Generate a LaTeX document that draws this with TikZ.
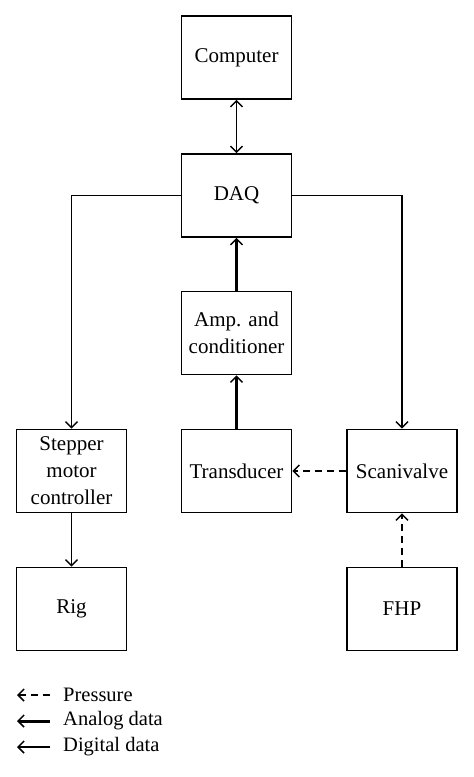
\documentclass[tikz,border=0pt]{standalone}
\usepackage{fontspec}
\setmainfont{Liberation Serif}
\usetikzlibrary{arrows.meta}
\begin{document}
\begin{tikzpicture}[x=1pt,y=-1pt,
  box/.style={draw,line width=1.7pt,minimum width=110pt,minimum height=83pt,inner sep=2pt,align=center,font=\fontsize{21}{27}\selectfont},
  lbl/.style={anchor=west,inner sep=0pt,font=\fontsize{20.5}{24}\selectfont},
  tip/.style={-{Straight Barb[length=6pt,width=12pt,line width=1.5pt]}},
  digital/.style={tip,line width=1.5pt},
  analog/.style={tip,line width=3pt},
  pressure/.style={tip,line width=1.5pt,dash pattern=on 7pt off 5pt}]
\useasboundingbox (0,0) rectangle (474,777);
\node[box] (comp) at (236.5,57.5) {Computer};
\node[box] (daq) at (236.5,195.5) {DAQ};
\node[box] (amp) at (236.5,333) {Amp. and\\conditioner};
\node[box] (step) at (71.5,471) {Stepper\\motor\\controller};
\node[box] (trans) at (236.5,471) {Transducer};
\node[box] (scan) at (402,471) {Scanivalve};
\node[box] (rig) at (71.5,609) {Rig};
\node[box] (fhp) at (402,609) {FHP};
\draw[line width=1.5pt,{Straight Barb[length=6pt,width=12pt,line width=1.5pt]}-{Straight Barb[length=6pt,width=12pt,line width=1.5pt]}] (comp) -- (daq);
\draw[analog] (amp) -- (daq);
\draw[analog] (trans) -- (amp);
\draw[digital] (daq.west) -| (step.north);
\draw[digital] (daq.east) -| (scan.north);
\draw[digital] (step) -- (rig);
\draw[pressure] (scan) -- (trans);
\draw[pressure] (fhp) -- (scan);
% legend
\coordinate (p1) at (50,695); \coordinate (p0) at (17,695);
\coordinate (a1) at (50,721); \coordinate (a0) at (17,721);
\coordinate (d1) at (50,747); \coordinate (d0) at (17,747);
\draw[pressure,dash pattern=on 7pt off 5pt] (p1) -- (p0);
\draw[analog] (a1) -- (a0);
\draw[digital] (d1) -- (d0);
\node[lbl] (lp) at (63,695) {Pressure};
\node[lbl] (la) at (63,721) {Analog data};
\node[lbl] (ld) at (63,747) {Digital data};
\end{tikzpicture}
\end{document}
